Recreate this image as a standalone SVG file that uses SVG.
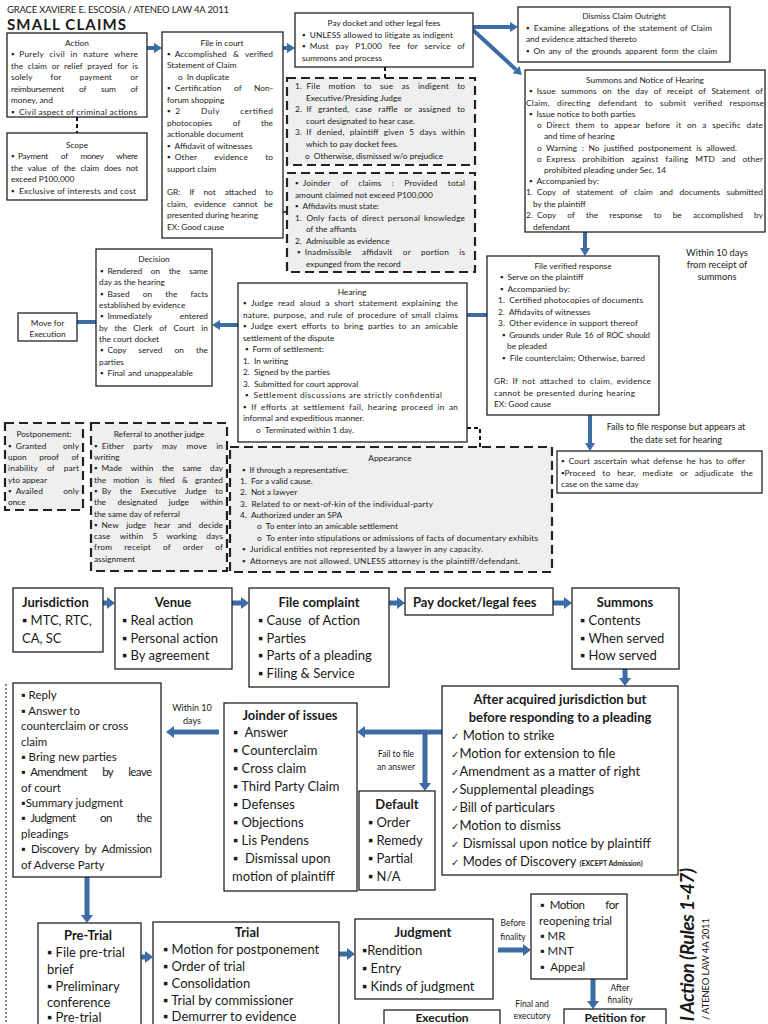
<svg xmlns="http://www.w3.org/2000/svg" width="768" height="1024" viewBox="0 0 768 1024">
<defs>
<style>
.t{font-family:Lato,"Liberation Sans","DejaVu Sans",sans-serif;font-size:8.3px;fill:#1a1a1a}
.c{text-anchor:middle}
.L{font-size:13px}
.M{font-size:11.5px}
.M12{font-size:12px}
.s9{font-size:9.3px}
.s9b{font-size:9px}
.s85{font-size:8.5px}
.hd{font-size:9.5px}
.ttl{font-size:15px;font-weight:bold}
.side{font-size:19px;font-weight:bold;font-style:italic}
.side2{font-size:9.5px}
.b{font-weight:bold}
.box{fill:#fff;stroke:#222;stroke-width:1.3}
.dbox{fill:#efefef;stroke:#222;stroke-width:2.2;stroke-dasharray:9 5}
.arr{stroke:#3d6ba5;stroke-width:4;fill:none;marker-end:url(#ah)}
.arr2{stroke:#3d6ba5;stroke-width:5;fill:none;marker-end:url(#ah2)}
.ln{stroke:#3d6ba5;stroke-width:4;fill:none}
.dash{stroke:#111;stroke-width:2;stroke-dasharray:4 3;fill:none}
.dot{stroke:#111;stroke-width:1;stroke-dasharray:2 2;fill:none}
.blk{stroke:#111;stroke-width:1.5;fill:none}
</style>
<marker id="ah" viewBox="0 0 8 10" refX="0" refY="5" markerWidth="8" markerHeight="10" markerUnits="userSpaceOnUse" orient="auto"><path d="M0,0 L8,5 L0,10 z" fill="#3d6ba5"/></marker>
<marker id="ah2" viewBox="0 0 8 12" refX="0" refY="6" markerWidth="8" markerHeight="12" markerUnits="userSpaceOnUse" orient="auto"><path d="M0,0 L8,6 L0,12 z" fill="#3d6ba5"/></marker>
</defs>
<rect width="768" height="1024" fill="#fff"/>

<g id="header">
<text class="t hd" x="7" y="12.5" textLength="222">GRACE XAVIERE E. ESCOSIA / ATENEO LAW 4A 2011</text>
<text class="t ttl" x="7" y="29.5" textLength="119">SMALL CLAIMS</text>
</g>

<g id="connectors">
<line class="arr" x1="147" y1="48" x2="154" y2="48"/>
<line class="arr" x1="283" y1="48" x2="287" y2="48"/>
<line class="arr" x1="473" y1="27" x2="510" y2="27"/>
<line class="arr" x1="473" y1="30" x2="516" y2="69.6"/>
<line class="dash" x1="77" y1="117" x2="77" y2="133"/>
<line class="dash" x1="385" y1="67" x2="385" y2="78"/>
<line class="blk" x1="283" y1="212" x2="287" y2="212"/>
<line class="arr" x1="585" y1="232" x2="585" y2="248"/>
<line class="ln" x1="467" y1="315" x2="487" y2="315"/>
<line class="arr" x1="238" y1="325" x2="220" y2="325"/>
<line class="ln" x1="77" y1="322" x2="96" y2="322"/>
<line class="arr" x1="590" y1="415" x2="590" y2="443"/>
<polyline class="dash" points="467,428 480,428 480,447"/>

<line class="arr2" x1="103" y1="603" x2="107" y2="603"/>
<line class="arr2" x1="232" y1="603" x2="241" y2="603"/>
<line class="arr2" x1="389" y1="603" x2="397" y2="603"/>
<line class="arr2" x1="553" y1="603" x2="564" y2="603"/>
<line class="arr2" x1="625" y1="669" x2="625" y2="678"/>
<line class="arr2" x1="442" y1="732" x2="365" y2="732"/>
<line class="arr2" x1="425" y1="732" x2="425" y2="783"/>
<line class="arr2" x1="219" y1="732" x2="174" y2="732"/>
<line class="arr2" x1="87" y1="877" x2="87" y2="915"/>
<line class="arr2" x1="141" y1="957" x2="145" y2="957"/>
<line class="arr2" x1="339" y1="954" x2="347" y2="954"/>
<line class="arr2" x1="498" y1="950" x2="523" y2="950"/>
<line class="arr2" x1="593" y1="979" x2="593" y2="1001"/>
<line class="dot" x1="6" y1="684" x2="6" y2="1024"/>
</g>

<g id="action">
<rect class="box" x="7" y="33" width="140" height="84"/>
<text class="t c" x="77" y="46">Action</text>
<text class="t" x="11" y="57" word-spacing="3" textLength="127">▪&#8194;Purely civil in nature where</text>
<text class="t" x="11" y="68.5" word-spacing="2.5" textLength="127">the claim or relief prayed for is</text>
<text class="t" x="11" y="80" word-spacing="16" textLength="127">solely for payment or</text>
<text class="t" x="11" y="91.5" word-spacing="13" textLength="127">reimbursement of sum of</text>
<text class="t" x="11" y="103">money, and</text>
<text class="t" x="11" y="114.5" textLength="126">▪&#8194;Civil aspect of criminal actions</text>
</g>

<g id="scope">
<rect class="box" x="7" y="133" width="140" height="67"/>
<text class="t c" x="77" y="148">Scope</text>
<text class="t" x="11" y="159" word-spacing="11" textLength="127">▪&#8194;Payment of money where</text>
<text class="t" x="11" y="170.5" word-spacing="3" textLength="127">the value of the claim does not</text>
<text class="t" x="11" y="182">exceed P100,000</text>
<text class="t" x="11" y="193.5" textLength="125">▪&#8194;Exclusive of interests and cost</text>
</g>

<g id="file-in-court">
<rect class="box" x="162" y="32" width="121" height="206"/>
<text class="t c" x="222" y="46">File in court</text>
<text class="t" x="167" y="56.5" word-spacing="4" textLength="106">▪&#8194;Accomplished &amp; verified</text>
<text class="t" x="167" y="68">Statement of Claim</text>
<text class="t" x="178" y="80">o&#8194;In duplicate</text>
<text class="t" x="167" y="91" word-spacing="10" textLength="106">▪&#8194;Certification of Non-</text>
<text class="t" x="167" y="102.5">forum shopping</text>
<text class="t" x="167" y="114" word-spacing="18" textLength="106">▪&#8194;2 Duly certified</text>
<text class="t" x="167" y="125.5" word-spacing="18.5" textLength="106">photocopies of the</text>
<text class="t" x="167" y="137">actionable document</text>
<text class="t" x="167" y="148.5">▪&#8194;Affidavit of witnesses</text>
<text class="t" x="167" y="160" word-spacing="15" textLength="106">▪&#8194;Other evidence to</text>
<text class="t" x="167" y="171.5">support claim</text>
<text class="t" x="167" y="195" word-spacing="7" textLength="106">GR: If not attached to</text>
<text class="t" x="167" y="206.5" word-spacing="4.5" textLength="106">claim, evidence cannot be</text>
<text class="t" x="167" y="218">presented during hearing</text>
<text class="t" x="167" y="229.5">EX: Good cause</text>
</g>

<g id="pay-docket">
<rect class="box" x="295" y="13" width="178" height="54"/>
<text class="t c" x="384" y="26">Pay docket and other legal fees</text>
<text class="t" x="302" y="37.5" textLength="151">▪&#8194;UNLESS allowed to litigate as indigent</text>
<text class="t" x="302" y="49" word-spacing="4.5" textLength="163">▪&#8194;Must pay P1,000 fee for service of</text>
<text class="t" x="302" y="60.5">summons and process</text>
</g>

<g id="indigent">
<rect class="dbox" x="287" y="78" width="188" height="87"/>
<text class="t" x="295" y="89" word-spacing="6" textLength="170">1.&#8194;File motion to sue as indigent to</text>
<text class="t" x="306" y="100.5">Executive/Presiding Judge</text>
<text class="t" x="295" y="112" word-spacing="4" textLength="170">2.&#8194;If granted, case raffle or assigned to</text>
<text class="t" x="306" y="123.5">court designated to hear case.</text>
<text class="t" x="295" y="135" word-spacing="3" textLength="170">3.&#8194;If denied, plaintiff given 5 days within</text>
<text class="t" x="306" y="146.5">which to pay docket fees.</text>
<text class="t" x="305" y="158.5">o&#8194;Otherwise, dismissed w/o prejudice</text>
</g>

<g id="joinder-claims">
<rect class="dbox" x="287" y="173" width="188" height="99"/>
<text class="t" x="295" y="186" word-spacing="8" textLength="170">▪&#8194;Joinder of claims : Provided total</text>
<text class="t" x="295" y="197.5">amount claimed not exceed P100,000</text>
<text class="t" x="295" y="209">▪&#8194;Affidavits must state:</text>
<text class="t" x="295" y="220.5" word-spacing="1.5" textLength="170">1.&#8194;Only facts of direct personal knowledge</text>
<text class="t" x="306" y="232">of the affiants</text>
<text class="t" x="295" y="243.5">2.&#8194;Admissible as evidence</text>
<text class="t" x="297" y="255" word-spacing="8" textLength="168">▪&#8194;Inadmissible affidavit or portion is</text>
<text class="t" x="306" y="266.5">expunged from the record</text>
</g>

<g id="dismiss">
<rect class="box" x="518" y="7" width="212" height="55"/>
<text class="t c" x="624" y="19">Dismiss Claim Outright</text>
<text class="t" x="526" y="30.5" word-spacing="1" textLength="186">▪&#8194;Examine allegations of the statement of Claim</text>
<text class="t" x="526" y="42">and evidence attached thereto</text>
<text class="t" x="526" y="53.5" word-spacing="1.5" textLength="191">▪&#8194;On any of the grounds apparent form the claim</text>
</g>

<g id="summons-notice">
<rect class="box" x="525" y="70" width="240" height="162"/>
<text class="t c" x="645" y="83">Summons and Notice of Hearing</text>
<text class="t" x="529" y="94" word-spacing="3.3" textLength="234">▪&#8194;Issue summons on the day of receipt of Statement of</text>
<text class="t" x="526" y="105.5" word-spacing="5" textLength="238">Claim, directing defendant to submit verified response</text>
<text class="t" x="529" y="116.5">▪&#8194;Issue notice to both parties</text>
<text class="t" x="537" y="128" word-spacing="3.3" textLength="226">o&#8194;Direct them to appear before it on a specific date</text>
<text class="t" x="544" y="139">and time of hearing</text>
<text class="t" x="537" y="150.5" word-spacing="2.5" textLength="200">o&#8194;Warning : No justified postponement is allowed.</text>
<text class="t" x="537" y="161.5" word-spacing="4.5" textLength="226">o&#8194;Express prohibition against failing MTD and other</text>
<text class="t" x="544" y="172.5">prohibited pleading under Sec. 14</text>
<text class="t" x="529" y="183.5">▪&#8194;Accompanied by:</text>
<text class="t" x="526" y="195" word-spacing="4.5" textLength="237">1.&#8194;Copy of statement of claim and documents submitted</text>
<text class="t" x="533" y="206.5">by the plaintiff</text>
<text class="t" x="526" y="218" word-spacing="9" textLength="237">2.&#8194;Copy of the response to be accomplished by</text>
<text class="t" x="533" y="229.5">defendant</text>
</g>

<g id="within-10-days-label">
<text class="t s9 c" x="717" y="256">Within 10 days</text>
<text class="t s9 c" x="717" y="268">from receipt of</text>
<text class="t s9 c" x="717" y="280">summons</text>
</g>

<g id="file-verified-response">
<rect class="box" x="487" y="256" width="172" height="159"/>
<text class="t c" x="573" y="269">File verified response</text>
<text class="t" x="500" y="280">▪&#8194;Serve on the plaintiff</text>
<text class="t" x="500" y="291.5">▪&#8194;Accompanied by:</text>
<text class="t" x="498" y="303" textLength="145">1.&#8194;Certified photocopies of documents</text>
<text class="t" x="498" y="314.5">2.&#8194;Affidavits of witnesses</text>
<text class="t" x="498" y="326" textLength="140">3.&#8194;Other evidence in support thereof</text>
<text class="t" x="502" y="337.5" word-spacing="1" textLength="148">▪&#8194;Grounds under Rule 16 of ROC should</text>
<text class="t" x="507" y="349">be pleaded</text>
<text class="t" x="502" y="360.5" textLength="143">▪&#8194;File counterclaim; Otherwise, barred</text>
<text class="t" x="494" y="384" word-spacing="2" textLength="157">GR: If not attached to claim, evidence</text>
<text class="t" x="494" y="395.5" word-spacing="1" textLength="141">cannot be presented during hearing</text>
<text class="t" x="494" y="407">EX: Good cause</text>
</g>

<g id="hearing">
<rect class="box" x="238" y="283" width="229" height="159"/>
<text class="t c" x="352" y="295">Hearing</text>
<text class="t" x="243" y="306" word-spacing="2.3" textLength="215">▪&#8194;Judge read aloud a short statement explaining the</text>
<text class="t" x="243" y="317.5" word-spacing="1.5" textLength="215">nature, purpose, and rule of procedure of small claims</text>
<text class="t" x="243" y="329" word-spacing="2.3" textLength="215">▪&#8194;Judge exert efforts to bring parties to an amicable</text>
<text class="t" x="243" y="340.5">settlement of the dispute</text>
<text class="t" x="245" y="352">▪&#8194;Form of settlement:</text>
<text class="t" x="243" y="363.5">1.&#8194;In writing</text>
<text class="t" x="243" y="375">2.&#8194;Signed by the parties</text>
<text class="t" x="243" y="386.5">3.&#8194;Submitted for court approval</text>
<text class="t" x="245" y="398" textLength="197">▪&#8194;Settlement discussions are strictly confidential</text>
<text class="t" x="243" y="409.5" word-spacing="1.8" textLength="215">▪&#8194;If efforts at settlement fail, hearing proceed in an</text>
<text class="t" x="243" y="421">informal and expeditious manner.</text>
<text class="t" x="256" y="433">o&#8194;Terminated within 1 day.</text>
</g>

<g id="appearance">
<rect class="dbox" x="230" y="447" width="322" height="125"/>
<text class="t c" x="390" y="461">Appearance</text>
<text class="t" x="242" y="472.5">▪&#8194;If through a representative:</text>
<text class="t" x="240" y="484">1.&#8194;For a valid cause.</text>
<text class="t" x="240" y="495">2.&#8194;Not a lawyer</text>
<text class="t" x="240" y="506.5" textLength="193">3.&#8194;Related to or next-of-kin of the individual-party</text>
<text class="t" x="240" y="518">4.&#8194;Authorized under an SPA</text>
<text class="t" x="257" y="529">o&#8194;To enter into an amicable settlement</text>
<text class="t" x="257" y="540.5" textLength="281">o&#8194;To enter into stipulations or admissions of facts of documentary exhibits</text>
<text class="t" x="242" y="552" textLength="241">▪&#8194;Juridical entities not represented by a lawyer in any capacity.</text>
<text class="t" x="242" y="563.5" textLength="278">▪&#8194;Attorneys are not allowed. UNLESS attorney is the plaintiff/defendant.</text>
</g>

<g id="decision">
<rect class="box" x="96" y="249" width="116" height="137"/>
<text class="t c" x="154" y="262">Decision</text>
<text class="t" x="100" y="274" word-spacing="6.5" textLength="108">▪&#8194;Rendered on the same</text>
<text class="t" x="99" y="285">day as the hearing</text>
<text class="t" x="100" y="296.5" word-spacing="11" textLength="108">▪&#8194;Based on the facts</text>
<text class="t" x="99" y="307.5">established by evidence</text>
<text class="t" x="100" y="319" word-spacing="26" textLength="108">▪&#8194;Immediately entered</text>
<text class="t" x="99" y="330.5" word-spacing="4.5" textLength="109">by the Clerk of Court in</text>
<text class="t" x="99" y="341.5">the court docket</text>
<text class="t" x="100" y="353" word-spacing="10" textLength="108">▪&#8194;Copy served on the</text>
<text class="t" x="99" y="364.5">parties</text>
<text class="t" x="100" y="376" word-spacing="1">▪&#8194;Final and unappealable</text>
</g>

<g id="move-for-execution">
<rect class="box" x="18" y="313" width="59" height="28"/>
<text class="t c" x="47.5" y="325.5">Move for</text>
<text class="t c" x="47.5" y="336.5">Execution</text>
</g>

<g id="postponement">
<rect class="dbox" x="5" y="423" width="78" height="87"/>
<text class="t c" x="44" y="437">Postponement:</text>
<text class="t" x="8" y="448.5" word-spacing="14" textLength="71">▪&#8194;Granted only</text>
<text class="t" x="8" y="460" word-spacing="10.5" textLength="71">upon proof of</text>
<text class="t" x="8" y="471" word-spacing="7" textLength="71">inability of part</text>
<text class="t" x="8" y="482.5">yto appear</text>
<text class="t" x="8" y="494" word-spacing="18" textLength="71">▪&#8194;Availed only</text>
<text class="t" x="8" y="505">once</text>
</g>

<g id="referral">
<rect class="dbox" x="91" y="423" width="136" height="148"/>
<text class="t c" x="159" y="437">Referral to another judge</text>
<text class="t" x="94" y="448.5" word-spacing="7" textLength="129">▪&#8194;Either party may move in</text>
<text class="t" x="94" y="460">writing</text>
<text class="t" x="94" y="471" word-spacing="6.5" textLength="129">▪&#8194;Made within the same day</text>
<text class="t" x="94" y="482.5" word-spacing="5" textLength="129">the motion is filed &amp; granted</text>
<text class="t" x="94" y="494" word-spacing="6.5" textLength="129">▪&#8194;By the Executive Judge to</text>
<text class="t" x="94" y="505" word-spacing="9.5" textLength="129">the designated judge within</text>
<text class="t" x="94" y="516.5">the same day of referral</text>
<text class="t" x="94" y="527.5" word-spacing="5.5" textLength="129">▪&#8194;New judge hear and decide</text>
<text class="t" x="94" y="539" word-spacing="7" textLength="129">case within 5 working days</text>
<text class="t" x="94" y="550" word-spacing="9.5" textLength="129">from receipt of order of</text>
<text class="t" x="94" y="561.5">assignment</text>
</g>

<g id="fails-label">
<text class="t s9b c" x="676" y="430">Fails to file response but appears at</text>
<text class="t s9b c" x="676" y="443">the date set for hearing</text>
</g>

<g id="court-ascertain">
<rect class="box" x="557" y="451" width="205" height="42"/>
<text class="t" x="561" y="464" word-spacing="1.5" textLength="184">▪&#8194;Court ascertain what defense he has to offer</text>
<text class="t" x="561" y="475.5" word-spacing="4.5" textLength="192">▪Proceed to hear, mediate or adjudicate the</text>
<text class="t" x="561" y="486.5">case on the same day</text>
</g>

<g id="jurisdiction">
<rect class="box" x="13" y="588" width="90" height="64"/>
<text class="t L b" x="22" y="607">Jurisdiction</text>
<text class="t L" x="22" y="625">▪ MTC, RTC,</text>
<text class="t L" x="22" y="643">CA, SC</text>
</g>

<g id="venue">
<rect class="box" x="115" y="588" width="117" height="81"/>
<text class="t L b c" x="173" y="607">Venue</text>
<text class="t L" x="122" y="625">▪ Real action</text>
<text class="t L" x="122" y="642.5">▪ Personal action</text>
<text class="t L" x="122" y="660">▪ By agreement</text>
</g>

<g id="file-complaint">
<rect class="box" x="249" y="588" width="140" height="99"/>
<text class="t L b c" x="319" y="607">File complaint</text>
<text class="t L" x="258" y="625" xml:space="preserve">▪ Cause  of Action</text>
<text class="t L" x="258" y="642.5">▪ Parties</text>
<text class="t L" x="258" y="660">▪ Parts of a pleading</text>
<text class="t L" x="258" y="678">▪ Filing &amp; Service</text>
</g>

<g id="pay-docket-legal-fees">
<rect class="box" x="405" y="588" width="148" height="27"/>
<text class="t L b" x="413" y="607">Pay docket/legal fees</text>
</g>

<g id="summons">
<rect class="box" x="572" y="588" width="107" height="81"/>
<text class="t L b c" x="625" y="607">Summons</text>
<text class="t L" x="580" y="625">▪ Contents</text>
<text class="t L" x="580" y="642.5">▪ When served</text>
<text class="t L" x="580" y="660">▪ How served</text>
</g>

<g id="after-acquired">
<rect class="box" x="442" y="686" width="236" height="189"/>
<text class="t L b c" x="560" y="704">After acquired jurisdiction but</text>
<text class="t L b c" x="560" y="722">before responding to a pleading</text>
<text class="t L" x="451" y="740"><tspan font-size="10">✓</tspan> Motion to strike</text>
<text class="t L" x="451" y="758"><tspan font-size="10">✓</tspan>Motion for extension to file</text>
<text class="t L" x="451" y="776"><tspan font-size="10">✓</tspan>Amendment as a matter of right</text>
<text class="t L" x="451" y="794"><tspan font-size="10">✓</tspan>Supplemental pleadings</text>
<text class="t L" x="451" y="812"><tspan font-size="10">✓</tspan>Bill of particulars</text>
<text class="t L" x="451" y="830"><tspan font-size="10">✓</tspan>Motion to dismiss</text>
<text class="t L" x="451" y="848"><tspan font-size="10">✓</tspan> Dismissal upon notice by plaintiff</text>
<text class="t L" x="451" y="866"><tspan font-size="10">✓</tspan> Modes of Discovery <tspan font-size="7" font-weight="bold">(EXCEPT Admission)</tspan></text>
</g>

<g id="fail-to-file-label">
<text class="t s85 c" x="396" y="757">Fail to file</text>
<text class="t s85 c" x="396" y="770">an answer</text>
</g>

<g id="joinder-of-issues">
<rect class="box" x="224" y="703" width="133" height="188"/>
<text class="t L b c" x="290" y="720">Joinder of issues</text>
<text class="t L" x="233" y="737" xml:space="preserve">▪  Answer</text>
<text class="t L" x="233" y="755">▪ Counterclaim</text>
<text class="t L" x="233" y="773">▪ Cross claim</text>
<text class="t L" x="233" y="791">▪ Third Party Claim</text>
<text class="t L" x="233" y="809">▪ Defenses</text>
<text class="t L" x="233" y="827">▪ Objections</text>
<text class="t L" x="233" y="845">▪ Lis Pendens</text>
<text class="t L" x="233" y="863" xml:space="preserve">▪  Dismissal upon</text>
<text class="t L" x="232" y="881">motion of plaintiff</text>
</g>

<g id="default">
<rect class="box" x="359" y="791" width="76" height="99"/>
<text class="t L b c" x="397" y="809">Default</text>
<text class="t L" x="368" y="827">▪ Order</text>
<text class="t L" x="368" y="845">▪ Remedy</text>
<text class="t L" x="368" y="863">▪ Partial</text>
<text class="t L" x="368" y="881">▪ N/A</text>
</g>

<g id="within-10-label">
<text class="t s9b c" x="192" y="711">Within 10</text>
<text class="t s9b c" x="192" y="724">days</text>
</g>

<g id="reply">
<rect class="box" x="13" y="683" width="148" height="194"/>
<text class="t M" x="21" y="699">▪ Reply</text>
<text class="t M" x="21" y="714.5">▪ Answer to</text>
<text class="t M" x="21" y="730">counterclaim or cross</text>
<text class="t M" x="21" y="745.5">claim</text>
<text class="t M" x="21" y="761">▪ Bring new parties</text>
<text class="t M" x="21" y="776" word-spacing="13" textLength="131">▪&#8194;Amendment by leave</text>
<text class="t M" x="21" y="791.5">of court</text>
<text class="t M" x="21" y="806.5">▪Summary judgment</text>
<text class="t M" x="21" y="822" word-spacing="22" textLength="131">▪&#8194;Judgment on the</text>
<text class="t M" x="21" y="838">pleadings</text>
<text class="t M" x="21" y="853" word-spacing="3" textLength="131">▪&#8194;Discovery by Admission</text>
<text class="t M" x="21" y="868.5">of Adverse Party</text>
</g>

<g id="pre-trial">
<rect class="box" x="38" y="923" width="103" height="110"/>
<text class="t L b c" x="88" y="940">Pre-Trial</text>
<text class="t L" x="47" y="957">▪ File pre-trial</text>
<text class="t L" x="47" y="974">brief</text>
<text class="t L" x="47" y="991">▪ Preliminary</text>
<text class="t L" x="47" y="1007">conference</text>
<text class="t L" x="47" y="1022">▪ Pre-trial</text>
</g>

<g id="trial">
<rect class="box" x="153" y="922" width="186" height="111"/>
<text class="t L b c" x="247" y="937">Trial</text>
<text class="t L" x="163" y="954">▪ Motion for postponement</text>
<text class="t L" x="163" y="971">▪ Order of trial</text>
<text class="t L" x="163" y="988">▪ Consolidation</text>
<text class="t L" x="163" y="1005">▪ Trial by commissioner</text>
<text class="t L" x="163" y="1021">▪ Demurrer to evidence</text>
</g>

<g id="judgment">
<rect class="box" x="355" y="919" width="138" height="80"/>
<text class="t L b c" x="423" y="937">Judgment</text>
<text class="t L" x="362" y="955">▪Rendition</text>
<text class="t L" x="362" y="973">▪ Entry</text>
<text class="t L" x="362" y="991">▪ Kinds of judgment</text>
</g>

<g id="before-finality-label">
<text class="t s85 c" x="513" y="926">Before</text>
<text class="t s85 c" x="513" y="940">finality</text>
</g>

<g id="motion-reopening">
<rect class="box" x="531" y="894" width="96" height="85"/>
<text class="t M" x="540" y="909" word-spacing="18" textLength="79">▪&#8194;Motion for</text>
<text class="t M" x="539" y="925">reopening trial</text>
<text class="t M" x="540" y="940">▪ MR</text>
<text class="t M" x="540" y="955">▪ MNT</text>
<text class="t M" x="540" y="971" xml:space="preserve">▪  Appeal</text>
</g>

<g id="after-finality-label">
<text class="t s85 c" x="620" y="991">After</text>
<text class="t s85 c" x="620" y="1003">finality</text>
</g>

<g id="final-executory-label">
<text class="t s85 c" x="532" y="1007">Final and</text>
<text class="t s85 c" x="532" y="1019">executory</text>
</g>

<g id="execution">
<rect class="box" x="384" y="1010" width="116" height="25"/>
<text class="t M12 b c" x="442" y="1022">Execution</text>
</g>

<g id="petition">
<rect class="box" x="564" y="1009" width="102" height="26"/>
<text class="t M12 b c" x="615" y="1022">Petition for</text>
</g>

<g id="side-title">
<text class="t side" transform="translate(694,1021) rotate(-90)" x="0" y="0" textLength="153">l Action (Rules 1-47)</text>
<text class="t side2" transform="translate(709,1020) rotate(-90)" x="0" y="0" textLength="102">/ ATENEO LAW 4A 2011</text>
</g>
</svg>
